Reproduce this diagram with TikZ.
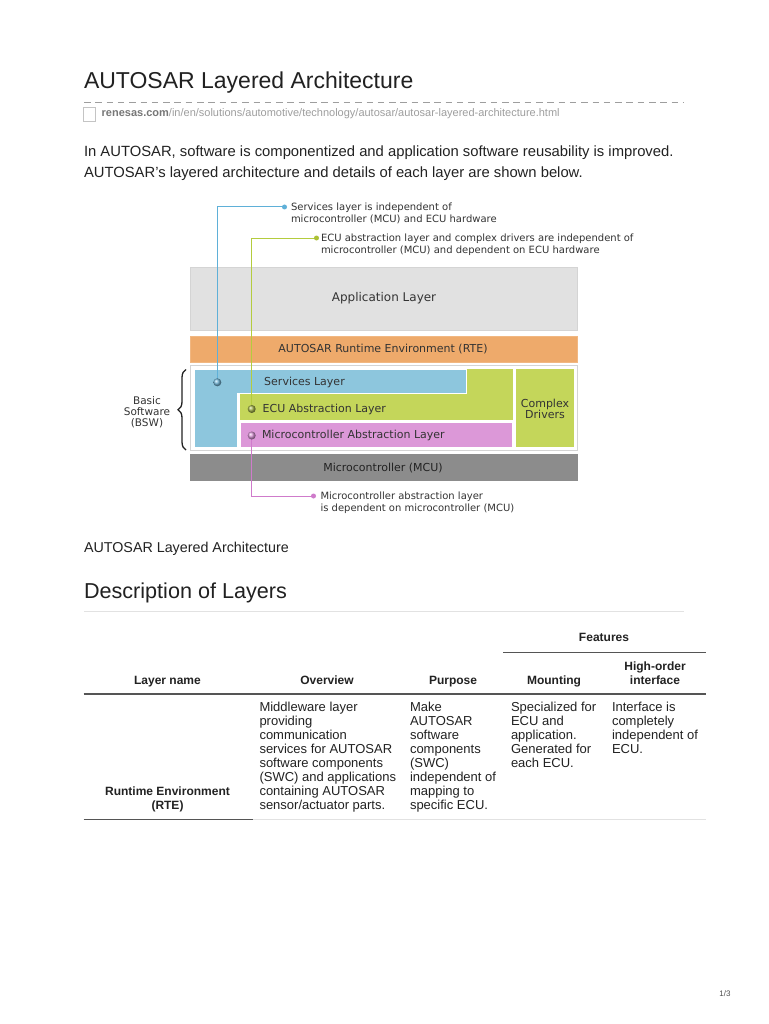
\documentclass[tikz,border=0pt]{standalone}
\usepackage{fontspec}
\setmainfont{Liberation Sans}
\newfontfamily\dvs{DejaVu Sans}
\usetikzlibrary{decorations.pathreplacing}
\newcommand\myfs[2]{\fontsize{#1}{#2}\selectfont}
\newcommand\mlines[2]{\begin{tabular}[t]{@{}#1@{}}#2\end{tabular}}
\definecolor{titlec}{HTML}{212121}
\definecolor{textc}{HTML}{222222}
\definecolor{urlc}{HTML}{9E9E9E}
\definecolor{urlb}{HTML}{777777}
\definecolor{appfill}{HTML}{E1E1E1}
\definecolor{appdraw}{HTML}{D4D4D4}
\definecolor{rtefill}{HTML}{EEAA6B}
\definecolor{bluefill}{HTML}{8DC6DD}
\definecolor{greenfill}{HTML}{C4D65A}
\definecolor{pinkfill}{HTML}{DC98D8}
\definecolor{mcufill}{HTML}{8C8C8C}
\definecolor{blueline}{HTML}{5FB0D8}
\definecolor{greenline}{HTML}{B4CC3E}
\definecolor{pinkline}{HTML}{CF7BCB}
\definecolor{tline}{HTML}{555555}
\definecolor{tlight}{HTML}{E2E2E2}
\definecolor{dtext}{HTML}{333333}
\tikzset{
  txt/.style={inner sep=0, outer sep=0, text=textc},
  tcell/.style={txt, anchor=base west, font=\myfs{13}{14.1}},
  thead/.style={txt, anchor=base, font=\bfseries\myfs{12}{14}},
  layerbox/.style={inner sep=0, outer sep=0, anchor=north west},
  dlabel/.style={inner sep=0, outer sep=0, text=dtext, font=\dvs\myfs{11}{12}},
  callout/.style={inner sep=0, outer sep=0, text=dtext, anchor=base west, font=\dvs\myfs{10}{12}},
  cline/.style={line width=1pt},
  cdot/.style={circle, inner sep=0, minimum size=5pt},
  cball/.style={circle, inner sep=0, minimum size=8pt, shading=ball},
}
\begin{document}
\begin{tikzpicture}[x=1pt,y=-1pt]
\useasboundingbox (0,0) rectangle (768,1024);
\fill[white] (0,0) rectangle (768,1024);

% header
\node[txt, anchor=base west, text=titlec, font=\myfs{23}{26}] (title) at (84,89) {AUTOSAR Layered Architecture};
\draw[urlc, line width=1pt, dash pattern=on 6.5pt off 4.8pt] (84,102.3) -- (684,102.3);
\node[layerbox, draw=tlight!70!gray, line width=0.8pt, minimum width=12pt, minimum height=14pt] (chk) at (83.5,107.7) {};
\node[txt, anchor=base west, text=urlc, font=\myfs{11}{13}] (url) at (101.7,117) {\textcolor{urlb}{\bfseries renesas.com}/in/en/solutions/automotive/technology/autosar/autosar-layered-architecture.html};
\node[txt, anchor=base west, font=\myfs{14.8}{21}] (intro) at (84,157) {\mlines{l}{In AUTOSAR, software is componentized and application software reusability is improved.\\AUTOSAR's layered architecture and details of each layer are shown below.}};

% diagram boxes
\node[layerbox, fill=appfill, draw=appdraw, line width=1pt, minimum width=387.7pt, minimum height=62.5pt] (app) at (190,267.7) {};
\node[dlabel, font=\dvs\myfs{12}{14}] (applbl) at (384,298.5) {Application Layer};
\node[layerbox, fill=rtefill, draw=rtefill!85!white, line width=0.8pt, minimum width=387.7pt, minimum height=26pt] (rte) at (190,336.3) {};
\node[dlabel] (rtelbl) at (383,349.3) {AUTOSAR Runtime Environment (RTE)};
\node[layerbox, fill=white, draw=appdraw, line width=1pt, minimum width=387.7pt, minimum height=85pt] (bsw) at (190,365.7) {};
\node[layerbox, fill=greenfill, minimum width=273pt, minimum height=51pt] (ecu) at (240,369.3) {};
\fill[bluefill, draw=white, line width=1.6pt] (194,369.3) -- (466.5,369.3) -- (466.5,393.5) -- (237.5,393.5) -- (237.5,447.3) -- (194,447.3) -- cycle;
\node[layerbox, fill=pinkfill, draw=white, line width=1.4pt, minimum width=273pt, minimum height=25.5pt] (mcal) at (240,422.2) {};
\node[layerbox, fill=greenfill, minimum width=58pt, minimum height=78pt] (cdd) at (516,369.3) {};
\node[layerbox, fill=mcufill, minimum width=388pt, minimum height=26.7pt] (mcu) at (190,454.3) {};

\node[dlabel] (svclbl) at (304.5,382) {Services Layer};
\node[dlabel, anchor=west] (eculbl) at (262.7,409) {ECU Abstraction Layer};
\node[dlabel, anchor=west] (mcallbl) at (262,435.5) {Microcontroller Abstraction Layer};
\node[dlabel, anchor=base, font=\dvs\myfs{11}{10.5}] (cddlbl) at (545,407) {\mlines{c}{Complex\\Drivers}};
\node[dlabel, text=textc] (mculbl) at (383,467.6) {Microcontroller (MCU)};

% brace + BSW label
\draw[decorate, decoration={brace, amplitude=8pt}, line width=1.3pt, textc] (186,450) -- (186,369.5);
\node[dlabel, anchor=base, font=\dvs\myfs{10.5}{10.6}] (bswlbl) at (147,404.5) {\mlines{c}{Basic\\Software\\(BSW)}};

% callout anchors
\coordinate (b1) at (217.3,382.3);
\coordinate (b2) at (251.7,409);
\coordinate (b3) at (251.7,435.5);
\coordinate (d1) at (284.5,207);
\coordinate (d2) at (316.5,238);
\coordinate (d3) at (313.5,496);
\draw[cline, blueline] (b1) |- (d1);
\draw[cline, greenline] (b2) |- (d2);
\draw[cline, pinkline] (b3) |- (d3);
\node[cball, ball color=blueline!85!white] (ball1) at (b1) {};
\node[cball, ball color=greenfill!85!black] (ball2) at (b2) {};
\node[cball, ball color=pinkfill] (ball3) at (b3) {};
\node[cdot, fill=blueline] (dot1) at (d1) {};
\node[cdot, fill=greenline!85!olive] (dot2) at (d2) {};
\node[cdot, fill=pinkline] (dot3) at (d3) {};
\node[callout] (c1) at (291,210.6) {\mlines{l}{Services layer is independent of\\microcontroller (MCU) and ECU hardware}};
\node[callout] (c2) at (321,241.6) {\mlines{l}{ECU abstraction layer and complex drivers are independent of\\microcontroller (MCU) and dependent on ECU hardware}};
\node[callout] (c3) at (320.5,499.6) {\mlines{l}{Microcontroller abstraction layer\\is dependent on microcontroller (MCU)}};

% caption and section
\node[txt, anchor=base west, font=\myfs{14.3}{16}] (caption) at (84,552) {AUTOSAR Layered Architecture};
\node[txt, anchor=base west, text=titlec, font=\myfs{21.6}{24}] (section) at (84,598) {Description of Layers};
\draw[tlight, line width=1pt] (84,611) -- (684,611);

% table
\node[thead] (hfeat) at (604,641.7) {Features};
\draw[tline, line width=1.3pt] (503,652.3) -- (706,652.3);
\node[thead] (hname) at (167.5,684) {Layer name};
\node[thead] (hover) at (327,684) {Overview};
\node[thead] (hpurp) at (453,684) {Purpose};
\node[thead] (hmount) at (554,684) {Mounting};
\node[thead] (hhigh) at (655,670) {\mlines{c}{High-order\\interface}};
\draw[tline, line width=1.3pt] (83.5,694) -- (706,694);
\node[thead] (rname) at (167.5,795) {\mlines{c}{Runtime Environment\\(RTE)}};
\node[tcell] (rover) at (259.5,711) {\mlines{l}{Middleware layer\\providing\\communication\\services for AUTOSAR\\software components\\(SWC) and applications\\containing AUTOSAR\\sensor/actuator parts.}};
\node[tcell] (rpurp) at (410,711) {\mlines{l}{Make\\AUTOSAR\\software\\components\\(SWC)\\independent of\\mapping to\\specific ECU.}};
\node[tcell] (rmount) at (511,711) {\mlines{l}{Specialized for\\ECU and\\application.\\Generated for\\each ECU.}};
\node[tcell] (rhigh) at (612,711) {\mlines{l}{Interface is\\completely\\independent of\\ECU.}};
\draw[tlight, line width=1.3pt] (252.7,819.3) -- (706,819.3);
\draw[tline, line width=1.3pt] (83.5,819.3) -- (252.7,819.3);

% page number
\node[txt, anchor=base, text=textc!80, font=\myfs{8}{9}] (pagenum) at (725,996) {1/3};
\end{tikzpicture}
\end{document}
